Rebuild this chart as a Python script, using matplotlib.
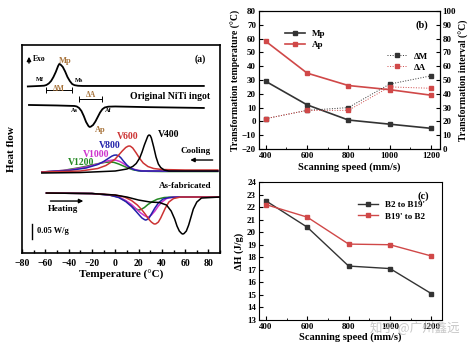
import numpy as np
import matplotlib.pyplot as plt

plt.rcParams['font.family'] = ['Liberation Serif', 'DejaVu Serif']
plt.rcParams['font.weight'] = 'bold'
plt.rcParams['axes.labelweight'] = 'bold'

# ---- panel (a): DSC curves, heat flow in arbitrary units ----
ingot_cool_T = [-75, -65, -61, -59, -57, -55, -53, -51, -49, -48, -47, -45, -43, -41,
                -39, -37, -35, -32, -28, -10, 20, 50, 76]
ingot_cool_h = [166.5, 167, 167.3, 168, 169.5, 172, 176, 181, 187, 189, 188.5, 186,
                181.5, 176, 172, 169, 167.8, 167.2, 167, 167, 167, 167, 167]
ingot_heat_T = [-74, -50, -35, -33, -31, -29, -27, -25, -23, -22, -21, -19, -17, -15,
                -13, -11, -9, -6, 0, 30, 76]
ingot_heat_h = [148, 147.5, 147, 146.5, 145, 142, 137, 131, 127, 126, 126.3, 128, 131.5,
                136, 140.5, 143.8, 145.5, 146.3, 146.5, 145.8, 145]

speeds_a = ['V400', 'V600', 'V800', 'V1000', 'V1200']
cool_T = {
    'V400': [-63, -30, 0, 10, 15, 18, 21, 23, 25, 27, 28, 29, 30, 31, 33, 35, 37, 39,
             42, 46, 50, 88],
    'V600': [-63, -30, -15, -8, -4, 0, 3, 6, 9, 11, 12, 13, 15, 18, 21, 24, 28, 33, 40,
             60, 88],
    'V800': [-63, -40, -25, -15, -10, -6, -3, -1, 1, 3, 5, 7, 10, 13, 17, 22, 40, 88],
    'V1000': [-63, -40, -25, -15, -10, -6, -2, 1, 4, 7, 10, 14, 19, 25, 40, 88],
    'V1200': [-63, -45, -30, -20, -14, -9, -5, -1, 3, 7, 11, 15, 20, 28, 40, 88],
}
cool_h = {
    'V400': [80, 80.5, 82, 84, 86.5, 89.5, 95, 101, 108, 114, 117, 118, 117.5, 115, 106,
             96, 89, 85.5, 83, 82, 82, 82],
    'V600': [81, 82, 84.5, 87.5, 90.5, 94, 98, 102, 105.5, 106.8, 107, 106.8, 105, 100,
             94.5, 90, 86.5, 84.5, 83.5, 83, 83],
    'V800': [81, 82.5, 85, 88.5, 91.5, 94.5, 96.8, 97.8, 98, 97.2, 95, 92, 88, 85, 83,
             82, 82, 82],
    'V1000': [81, 83, 86, 89, 90.8, 92.3, 93, 92.7, 91.5, 89.5, 87, 84.5, 82.8, 82, 82, 82],
    'V1200': [81, 82.5, 85.5, 88, 89.5, 90.6, 91, 90.6, 89, 87, 85, 83.3, 82.2, 81.7,
              81.5, 81.5],
}
heat_T = {
    'V400': [-59, -20, 0, 10, 20, 30, 38, 44, 48, 51, 53, 55, 57, 58, 59, 61, 63, 65, 67,
             70, 74, 90],
    'V600': [-59, -20, 0, 8, 14, 19, 23, 26, 29, 31, 33, 34, 35, 37, 39, 41, 43, 46, 50,
             56, 90],
    'V800': [-59, -20, -5, 3, 9, 14, 18, 21, 23, 25, 26, 27, 29, 31, 34, 37, 41, 46, 55, 90],
    'V1000': [-59, -20, -5, 3, 9, 14, 19, 22, 25, 27, 28, 29, 31, 34, 37, 40, 44, 50, 90],
    'V1200': [-59, -20, -5, 3, 9, 13, 16, 18, 20, 22, 25, 28, 32, 36, 42, 50, 90],
}
heat_h = {
    'V400': [60, 59.5, 58, 56, 53, 51, 50.5, 48, 42, 34, 27, 22, 19.5, 19, 19.5, 22, 28,
             36, 44, 51, 55, 56],
    'V600': [60, 59.5, 58, 56, 52.5, 48, 43, 38.5, 33.5, 31, 29.3, 29, 29.3, 31, 35, 40,
             45, 51, 54.5, 56, 56],
    'V800': [60, 59.5, 58, 55.5, 51.5, 46.5, 41.5, 37.5, 35, 33.5, 33, 33.3, 35, 39, 45,
             50, 54, 55.5, 56, 56],
    'V1000': [60, 59.5, 58, 56, 52.5, 48.5, 43, 40, 37.5, 36.3, 36, 36.3, 38, 42, 47, 51,
              54.5, 56, 56],
    'V1200': [60, 59.5, 58, 56, 52, 48.5, 45.5, 44, 43, 43.5, 45.5, 48.5, 51.5, 53.8,
              55.5, 56, 56],
}
colors_a = {'V400': 'black', 'V600': '#cc3333', 'V800': '#2222aa',
            'V1000': '#cc33cc', 'V1200': '#228822'}

# ---- panel (b) ----
speed = [400, 600, 800, 1000, 1200]
Mp = [29, 12, 1, -2, -5]
Ap = [58, 35, 26, 23, 19]
dM = [22, 28, 30, 47, 53]
dA = [22, 28, 28, 45, 44]

# ---- panel (c) ----
dH_cool = [22.5, 20.4, 17.3, 17.1, 15.1]
dH_heat = [22.2, 21.2, 19.05, 19.0, 18.1]

brown = '#a8743c'
red = '#d04848'
dark = '#333333'

fig = plt.figure(figsize=(4.74, 3.51), dpi=100)

# ===== (a) =====
ax = fig.add_axes([0.0464, 0.279, 0.418, 0.593])
ax.plot(ingot_cool_T, ingot_cool_h, color='black', lw=1.3)
ax.plot(ingot_heat_T, ingot_heat_h, color='black', lw=1.3)
for s in speeds_a[::-1]:
    ax.plot(cool_T[s], cool_h[s], color=colors_a[s], lw=1.1)
    ax.plot(heat_T[s], heat_h[s], color=colors_a[s], lw=1.1)
ax.set_xlim(-80, 90)
ax.set_ylim(0, 208)
ax.set_yticks([])
ax.set_xticks(np.arange(-80, 81, 20))
ax.set_xticks(np.arange(-80, 91, 10), minor=True)
ax.tick_params(axis='x', direction='in', labelsize=7, length=3, width=1, pad=4)
ax.tick_params(axis='x', which='minor', direction='in', length=2, width=1)
for sp in ax.spines.values():
    sp.set_linewidth(1.2)
ax.set_xlabel('Temperature (\u00b0C)', fontsize=8, labelpad=2)
ax.set_ylabel('Heat flow', fontsize=8, labelpad=4)

ax.annotate('', xy=(-74, 199), xytext=(-74, 187),
            arrowprops=dict(arrowstyle='-|>', color='black', lw=1, mutation_scale=6))
ax.text(-71, 194, 'Exo', fontsize=5.5, va='center')
ax.text(73, 194, '(a)', fontsize=7, ha='center', va='center')
ax.text(-43, 192, 'Mp', fontsize=6, color=brown, ha='center', va='center')
ax.text(-65, 173, 'Mf', fontsize=4.5, ha='center', va='center')
ax.text(-31, 172, 'Ms', fontsize=4.5, ha='center', va='center')
ax.errorbar([-48], [162.5], xerr=[[11], [11]], color='black', lw=0.7,
            capsize=2, capthick=0.7)
ax.text(-48, 164, '\u0394M', fontsize=5.5, color=brown, ha='center', va='center')
ax.text(47, 156, 'Original NiTi ingot', fontsize=7, ha='center', va='center')
ax.errorbar([-21], [154], xerr=[[10], [10]], color='black', lw=0.7,
            capsize=2, capthick=0.7)
ax.text(-21, 158, '\u0394A', fontsize=5.5, color=brown, ha='center', va='center')
ax.text(-35, 142, 'As', fontsize=4.5, ha='center', va='center')
ax.text(-6, 142, 'Af', fontsize=4.5, ha='center', va='center')
ax.text(-13, 123, 'Ap', fontsize=6, color=brown, ha='center', va='center')

lab_pos = {'V400': (46, 118), 'V600': (11, 116), 'V800': (-5, 107),
           'V1000': (-16, 99), 'V1200': (-29, 91)}
for s in speeds_a:
    ax.text(lab_pos[s][0], lab_pos[s][1], s, fontsize=7, color=colors_a[s],
            ha='center', va='center')
ax.text(69, 102, 'Cooling', fontsize=6.5, ha='center', va='center')
ax.annotate('', xy=(62, 93), xytext=(86, 93),
            arrowprops=dict(arrowstyle='-|>', color='black', lw=1, mutation_scale=6))
ax.text(60, 67, 'As-fabricated', fontsize=6.5, ha='center', va='center')
ax.annotate('', xy=(-25, 52), xytext=(-58, 52),
            arrowprops=dict(arrowstyle='-|>', color='black', lw=1, mutation_scale=6))
ax.text(-45, 44, 'Heating', fontsize=6.5, ha='center', va='center')
ax.plot([-71, -71], [14, 29], color='black', lw=1)
ax.text(-67, 22, '0.05 W/g', fontsize=6, va='center')

# ===== (b) =====
axb = fig.add_axes([0.546, 0.5755, 0.382, 0.3932])
axb.plot(speed, Mp, color=dark, lw=1.2, marker='s', ms=3, label='Mp')
axb.plot(speed, Ap, color=red, lw=1.2, marker='s', ms=3, label='Ap')
axb.set_xlim(366, 1244)
axb.set_ylim(-20, 80)
axb.set_yticks(np.arange(-20, 81, 10))
axb.set_xticks(speed)
axb.set_xticks(np.arange(400, 1201, 100), minor=True)
axb.set_xlabel('Scanning speed (mm/s)', fontsize=7.5, labelpad=2)
axb.set_ylabel('Transformation temperature (\u00b0C)', fontsize=7, labelpad=1)
axb.tick_params(direction='in', labelsize=6.5, length=3, width=0.8, pad=2)
axb.tick_params(which='minor', direction='in', length=1.5)
axb.legend(loc='upper left', bbox_to_anchor=(0.1, 0.92), fontsize=6.5,
           frameon=False, handlelength=2.2, labelspacing=0.3)
axb.text(0.9, 0.9, '(b)', transform=axb.transAxes, fontsize=7.5,
         ha='center', va='center')
axr = axb.twinx()
axr.plot(speed, dM, color=dark, lw=0.7, ls=':', marker='s', ms=3, label='\u0394M')
axr.plot(speed, dA, color=red, lw=0.7, ls=':', marker='s', ms=3, label='\u0394A')
axr.set_ylim(0, 100)
axr.set_yticks(np.arange(0, 101, 10))
axr.set_ylabel('Transformation interval (\u00b0C)', fontsize=7, labelpad=2)
axr.tick_params(direction='in', labelsize=6.5, length=3, width=0.8, pad=2)
axr.legend(loc='upper right', bbox_to_anchor=(0.98, 0.76), fontsize=6.5,
           frameon=False, handlelength=2.2, labelspacing=0.3)

# ===== (c) =====
axc = fig.add_axes([0.546, 0.0883, 0.386, 0.3932])
axc.plot(speed, dH_cool, color=dark, lw=1.0, marker='s', ms=3, label="B2 to B19'")
axc.plot(speed, dH_heat, color=red, lw=1.0, marker='s', ms=3, label="B19' to B2")
axc.set_xlim(366, 1250)
axc.set_ylim(13, 24)
axc.set_yticks(np.arange(13, 25, 1))
axc.set_xticks(speed)
axc.set_xticks(np.arange(400, 1201, 100), minor=True)
axc.set_xlabel('Scanning speed (mm/s)', fontsize=7.5, labelpad=1)
axc.set_ylabel('\u0394H (J/g)', fontsize=7.5, labelpad=2)
axc.tick_params(direction='in', labelsize=6.5, length=3, width=0.8, pad=2)
axc.tick_params(which='minor', direction='in', length=1.5)
axc.legend(loc='upper left', bbox_to_anchor=(0.5, 0.92), fontsize=6.5,
           frameon=False, handlelength=2.2, labelspacing=0.3)
axc.text(0.9, 0.9, '(c)', transform=axc.transAxes, fontsize=7.5,
         ha='center', va='center')

fig.text(0.875, 0.065, '知乎 @广州鑫远', fontsize=9, color='#bbbbbb', alpha=0.8,
         ha='center', va='center', family=['Noto Sans CJK SC', 'DejaVu Sans'],
         fontweight='normal')

fig.savefig('out.png', dpi=100)
